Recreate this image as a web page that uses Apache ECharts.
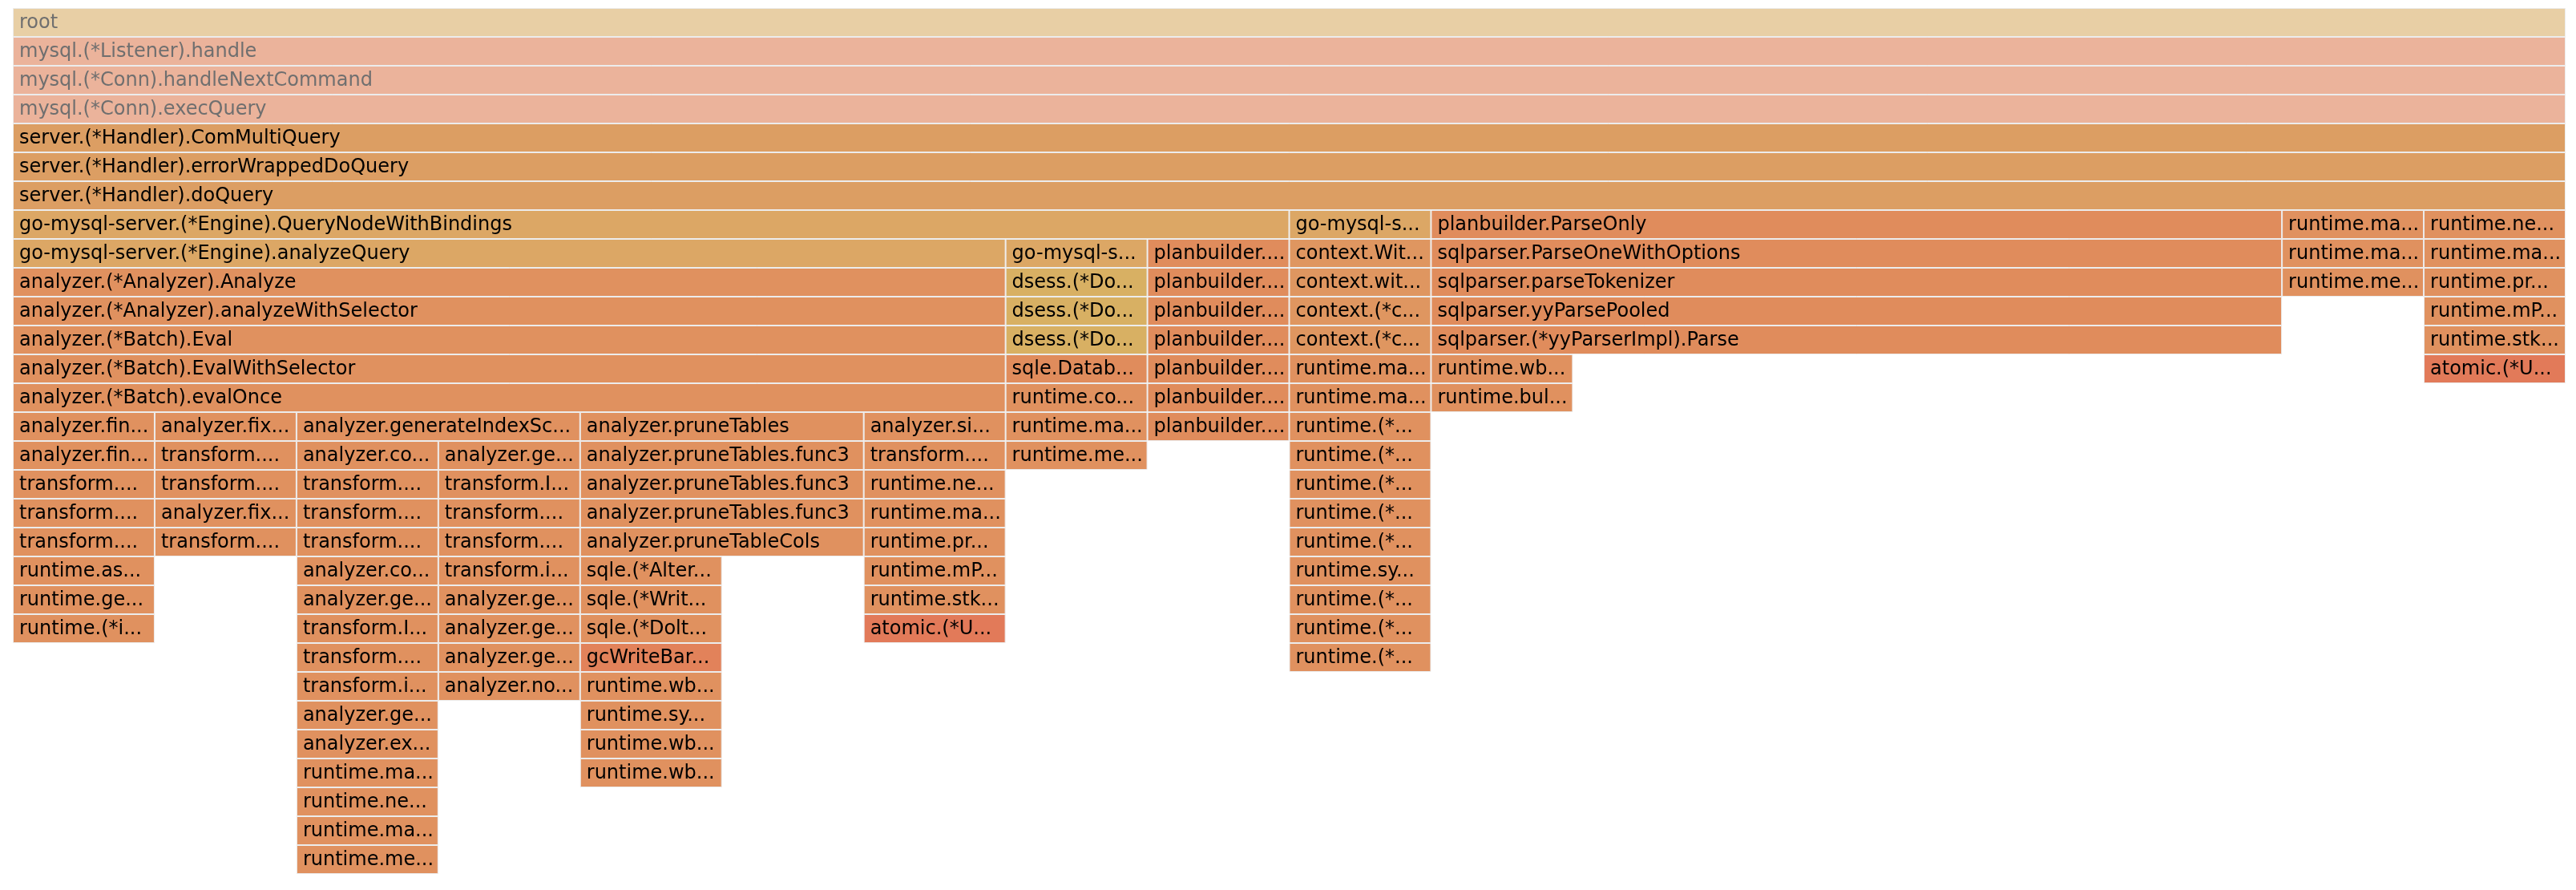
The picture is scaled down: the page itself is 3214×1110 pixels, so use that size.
<!DOCTYPE html>
<html>
<head>
<meta charset="utf-8">
<script src="https://cdn.jsdelivr.net/npm/echarts@6/dist/echarts.min.js"></script>
<style>
html,body{margin:0;padding:0;background:#fff;}
#chart{width:3214px;height:1110px;}
</style>
</head>
<body>
<div id="chart"></div>
<script>
// Flame graph frames in depth-first order: label, stack depth, sample count
const frameNames = [
  "root",
  "mysql.(*Listener).handle",
  "mysql.(*Conn).handleNextCommand",
  "mysql.(*Conn).execQuery",
  "server.(*Handler).ComMultiQuery",
  "server.(*Handler).errorWrappedDoQuery",
  "server.(*Handler).doQuery",
  "go-mysql-server.(*Engine).QueryNodeWithBindings",
  "go-mysql-server.(*Engine).analyzeQuery",
  "analyzer.(*Analyzer).Analyze",
  "analyzer.(*Analyzer).analyzeWithSelector",
  "analyzer.(*Batch).Eval",
  "analyzer.(*Batch).EvalWithSelector",
  "analyzer.(*Batch).evalOnce",
  "analyzer.fin...", "analyzer.fin...", "transform....", "transform....", "transform....", "runtime.as...", "runtime.ge...", "runtime.(*i...",
  "analyzer.fix...", "transform....", "transform....", "analyzer.fix...", "transform....",
  "analyzer.generateIndexSc...",
  "analyzer.co...", "transform....", "transform....", "transform....", "analyzer.co...", "analyzer.ge...", "transform.I...", "transform....", "transform.i...", "analyzer.ge...", "analyzer.ex...", "runtime.ma...", "runtime.ne...", "runtime.ma...", "runtime.me...",
  "analyzer.ge...", "transform.I...", "transform....", "transform....", "transform.i...", "analyzer.ge...", "analyzer.ge...", "analyzer.ge...", "analyzer.no...",
  "analyzer.pruneTables", "analyzer.pruneTables.func3", "analyzer.pruneTables.func3", "analyzer.pruneTables.func3", "analyzer.pruneTableCols",
  "sqle.(*Alter...", "sqle.(*Writ...", "sqle.(*Dolt...", "gcWriteBar...", "runtime.wb...", "runtime.sy...", "runtime.wb...", "runtime.wb...",
  "analyzer.si...", "transform....", "runtime.ne...", "runtime.ma...", "runtime.pr...", "runtime.mP...", "runtime.stk...", "atomic.(*U...",
  "go-mysql-s...", "dsess.(*Do...", "dsess.(*Do...", "dsess.(*Do...", "sqle.Datab...", "runtime.co...", "runtime.ma...", "runtime.me...",
  "planbuilder....", "planbuilder....", "planbuilder....", "planbuilder....", "planbuilder....", "planbuilder....", "planbuilder....",
  "go-mysql-s...", "context.Wit...", "context.wit...", "context.(*c...", "context.(*c...", "runtime.ma...", "runtime.ma...", "runtime.(*...", "runtime.(*...", "runtime.(*...", "runtime.(*...", "runtime.(*...", "runtime.sy...", "runtime.(*...", "runtime.(*...", "runtime.(*...",
  "planbuilder.ParseOnly", "sqlparser.ParseOneWithOptions", "sqlparser.parseTokenizer", "sqlparser.yyParsePooled", "sqlparser.(*yyParserImpl).Parse", "runtime.wb...", "runtime.bul...",
  "runtime.ma...", "runtime.ma...", "runtime.me...",
  "runtime.ne...", "runtime.ma...", "runtime.pr...", "runtime.mP...", "runtime.stk...", "atomic.(*U..."
];
const frameDepths = [
  0, 1, 2, 3, 4, 5, 6,
  7, 8, 9, 10, 11, 12, 13,
  14, 15, 16, 17, 18, 19, 20, 21,
  14, 15, 16, 17, 18,
  14,
  15, 16, 17, 18, 19, 20, 21, 22, 23, 24, 25, 26, 27, 28, 29,
  15, 16, 17, 18, 19, 20, 21, 22, 23,
  14, 15, 16, 17, 18,
  19, 20, 21, 22, 23, 24, 25, 26,
  14, 15, 16, 17, 18, 19, 20, 21,
  8, 9, 10, 11, 12, 13, 14, 15,
  8, 9, 10, 11, 12, 13, 14,
  7, 8, 9, 10, 11, 12, 13, 14, 15, 16, 17, 18, 19, 20, 21, 22,
  7, 8, 9, 10, 11, 12, 13,
  7, 8, 9,
  7, 8, 9, 10, 11, 12
];
const frameSamples = [
  18, 18, 18, 18, 18, 18, 18,
  9, 7, 7, 7, 7, 7, 7,
  1, 1, 1, 1, 1, 1, 1, 1,
  1, 1, 1, 1, 1,
  2,
  1, 1, 1, 1, 1, 1, 1, 1, 1, 1, 1, 1, 1, 1, 1,
  1, 1, 1, 1, 1, 1, 1, 1, 1,
  2, 2, 2, 2, 2,
  1, 1, 1, 1, 1, 1, 1, 1,
  1, 1, 1, 1, 1, 1, 1, 1,
  1, 1, 1, 1, 1, 1, 1, 1,
  1, 1, 1, 1, 1, 1, 1,
  1, 1, 1, 1, 1, 1, 1, 1, 1, 1, 1, 1, 1, 1, 1, 1,
  6, 6, 6, 6, 6, 1, 1,
  1, 1, 1,
  1, 1, 1, 1, 1, 1
];

// colour rules (style, kept apart from the data)
function frameColor(name) {
  if (name === 'root') return '#e8cfa5';
  if (name.startsWith('mysql.')) return '#ebb39b';
  if (name.startsWith('server.')) return '#dc9e63';
  if (name.startsWith('go-mysql')) return '#dca765';
  if (name.startsWith('dsess.')) return '#d8b063';
  if (name.startsWith('context.')) return '#df9660';
  if (name.startsWith('planbuilder') || name.startsWith('sqlparser') || name.startsWith('sqle.Datab')) return '#e08c5c';
  if (name.startsWith('gcWriteBar')) return '#e2825a';
  if (name.startsWith('atomic.')) return '#e27a59';
  return '#e0915f';
}
function textColor(name) {
  if (name === 'root' || name.startsWith('mysql.')) return '#6f6f6f';
  return '#000000';
}

// flame-graph layout: offset of each frame in samples from DFS order
const cursor = [];
const data = [];
let maxDepth = 0;
for (let i = 0; i < frameNames.length; i++) {
  const d = frameDepths[i];
  let start = 0;
  if (d > 0) { start = cursor[d - 1]; cursor[d - 1] += frameSamples[i]; }
  cursor[d] = start;
  maxDepth = Math.max(maxDepth, d);
  data.push([start, d, frameSamples[i], i]);
}
const totalSamples = frameSamples[0];
const rowCount = maxDepth + 1;

const chart = echarts.init(document.getElementById('chart'), null, {renderer: 'canvas'});
chart.setOption({
  animation: false,
  backgroundColor: '#ffffff',
  grid: {left: 16, right: 13, top: 10, height: rowCount * 36},
  xAxis: {type: 'value', min: 0, max: totalSamples, show: false},
  yAxis: {type: 'value', min: 0, max: rowCount, inverse: true, show: false},
  series: [{
    type: 'custom',
    clip: false,
    data: data,
    encode: {x: 0, y: 1},
    renderItem: function (params, api) {
      const start = api.value(0), depth = api.value(1), n = api.value(2);
      const name = frameNames[api.value(3)];
      const p0 = api.coord([start, depth]);
      const p1 = api.coord([start + n, depth + 1]);
      const w = p1[0] - p0[0], h = p1[1] - p0[1];
      return {
        type: 'group',
        children: [{
          type: 'rect',
          shape: {x: p0[0] + 0.5, y: p0[1] + 0.5, width: w - 1, height: h - 1},
          style: {fill: frameColor(name), stroke: '#ececec', lineWidth: 1}
        }, {
          type: 'text',
          x: p0[0] + 8,
          y: p0[1] + h / 2 + 1,
          style: {
            text: name,
            fill: textColor(name),
            font: '24px "DejaVu Sans"',
            textAlign: 'left',
            verticalAlign: 'middle',
            textVerticalAlign: 'middle'
          }
        }]
      };
    }
  }]
});
</script>
</body>
</html>
